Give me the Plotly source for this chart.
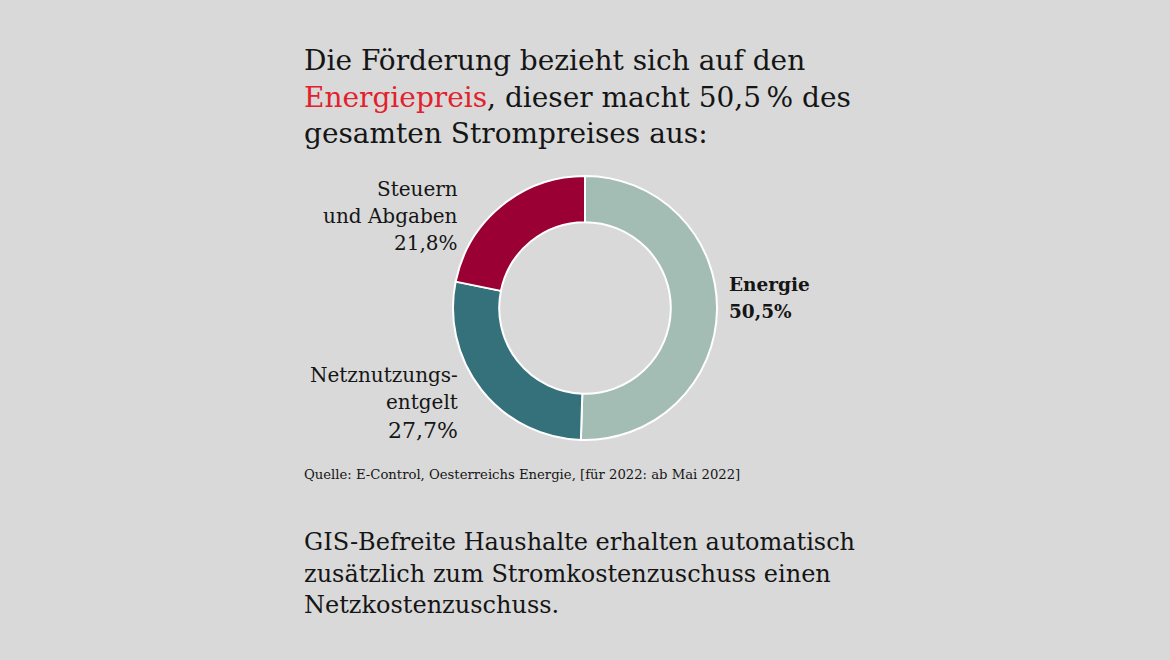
import plotly.graph_objects as go

categories = ["Energie", "Netznutzungsentgelt", "Steuern und Abgaben"]
values = [50.5, 27.7, 21.8]
colors = ["#a3bcb4", "#35717a", "#9b0035"]

W, H = 1170, 660
BG = "#d9d9d9"
FONT = "DejaVu Serif"

cx, cy, R = 585, 308, 132

def px(x):
    return x / W

def py(y):
    return 1 - y / H

fig = go.Figure()
fig.add_trace(go.Pie(
    labels=categories,
    values=values,
    hole=0.65,
    sort=False,
    direction="clockwise",
    rotation=0,
    marker=dict(colors=colors, line=dict(color="white", width=2)),
    textinfo="none",
    hoverinfo="label+percent",
    showlegend=False,
    domain=dict(x=[px(cx - R), px(cx + R)], y=[py(cy + R), py(cy - R)]),
))

def fmt(v, sep=""):
    return f"{v:.1f}".replace(".", ",") + sep + "%"

ann = []

def add(text, x, y, size, xanchor="left", yanchor="middle", bold=False, color="#151515"):
    if bold:
        text = f"<b>{text}</b>"
    ann.append(dict(text=text, x=px(x), y=py(y), xref="paper", yref="paper",
                    xanchor=xanchor, yanchor=yanchor, showarrow=False,
                    font=dict(family=FONT, size=size, color=color), align=xanchor))

# Title
title_lines = [
    "Die Förderung bezieht sich auf den",
    "<span style='color:#e3212d'>Energiepreis</span>, dieser macht " + fmt(values[0], "\u2009") + " des",
    "gesamten Strompreises aus:",
]
for i, t in enumerate(title_lines):
    add(t, 302, 61 + i * 36.5, 28)

# Slice labels
add("Energie", 727, 284, 18.5, bold=True)
add(fmt(values[0]), 727, 311, 18.5, bold=True)

add("Steuern", 460, 189, 20, xanchor="right")
add("und Abgaben", 460, 216, 20, xanchor="right")
add(fmt(values[2]), 460, 243, 20, xanchor="right")

add("Netznutzungs-", 460, 375, 20, xanchor="right")
add("entgelt", 460, 402, 20, xanchor="right")
add(fmt(values[1]), 460, 430, 22, xanchor="right")

# Source
add("Quelle: E-Control, Oesterreichs Energie, [für 2022: ab Mai 2022]", 302, 474, 13.2)

# Bottom text
bottom_lines = [
    "GIS-Befreite Haushalte erhalten automatisch",
    "zusätzlich zum Stromkostenzuschuss einen",
    "Netzkostenzuschuss.",
]
for i, t in enumerate(bottom_lines):
    add(t, 302, 542 + i * 31.5, 24)

fig.update_layout(
    width=W, height=H,
    margin=dict(l=0, r=0, t=0, b=0),
    paper_bgcolor=BG, plot_bgcolor=BG,
    annotations=ann,
)

fig.write_html("out.html")
